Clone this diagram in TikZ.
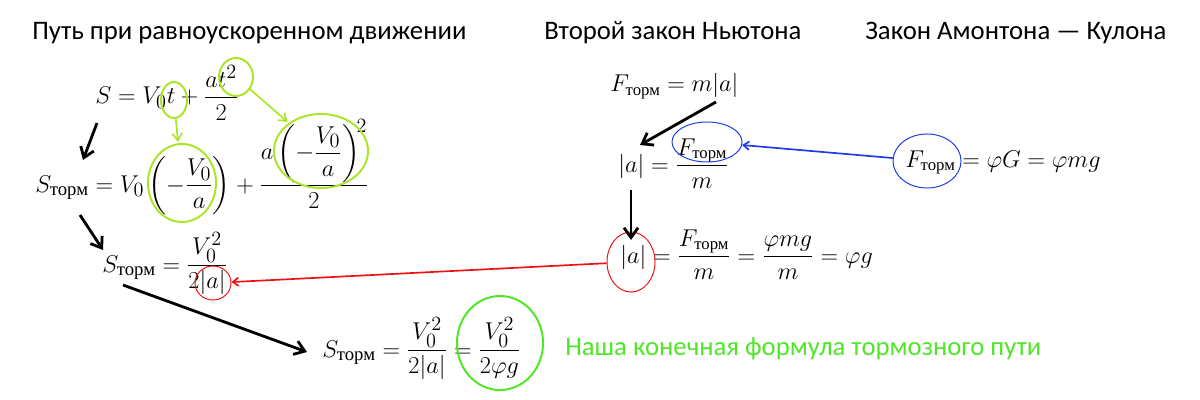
\documentclass[tikz,border=0pt]{standalone}
\usepackage{amsmath}
\usepackage{fontspec}
\newfontfamily\calibri{Carlito}
\newfontfamily\cyr{Liberation Serif}
\usetikzlibrary{arrows.meta,shapes.geometric}
\definecolor{lime}{RGB}{170,230,40}
\definecolor{fgreen}{RGB}{80,230,40}
\definecolor{rred}{RGB}{235,20,20}
\definecolor{bblue}{RGB}{30,60,230}
\newcommand{\torm}{\text{\cyr торм}}
\begin{document}
\begin{tikzpicture}[x=0.025cm,y=-0.025cm,
  title/.style={font=\calibri\fontsize{19}{22}\selectfont, inner sep=0, anchor=base west},
  fl/.style={font=\fontsize{19}{23}\selectfont, inner sep=0, anchor=base west},
  fm/.style={font=\fontsize{17}{21}\selectfont, inner sep=0, anchor=base west},
  oval/.style 2 args={ellipse, draw, inner sep=0, minimum width=#1*0.05cm, minimum height=#2*0.05cm},
  limering/.style={lime, line width=1.4pt},
  blk/.style={-{Straight Barb[length=7pt,width=10pt]}, line width=2pt, black},
  limearr/.style={-{Straight Barb[length=5pt,width=7pt]}, lime, line width=1.2pt, shorten >=1pt},
  redarr/.style={-{Straight Barb[length=4pt,width=6pt]}, rred, line width=1.2pt},
  bluearr/.style={-{Straight Barb[length=4pt,width=6pt]}, bblue, line width=1.2pt}]
\useasboundingbox (0,0) rectangle (1200,400);

% titles
\node[title] (t1) at (32,40) {Путь при равноускоренном движении};
\node[title] (t2) at (544,40) {Второй закон Ньютона};
\node[title] (t3) at (865,40) {Закон Амонтона — Кулона};

% left formulas
\node[fl] (f1) at (95,104) {$\displaystyle S=V_0t+\frac{at^2}{2}$};
\node[fl] (f2) at (35,192) {$\displaystyle S_{\torm}=V_0\left(-\frac{V_0}{a}\right)+\frac{a\left(-\dfrac{V_0}{a}\right)^{\!2}}{2}$};
\node[fl] (f3) at (102,272) {$\displaystyle S_{\torm}=\frac{V_0^2}{2|a|}$};
\node[fl] (f4) at (322,357) {$\displaystyle S_{\torm}=\frac{V_0^2}{2|a|}=\frac{V_0^2}{2\varphi g}$};
\node[font=\calibri\fontsize{19}{22}\selectfont, inner sep=0, anchor=base west, text=fgreen] (note) at (565,355) {Наша конечная формула тормозного пути};

% middle formulas
\node[fm] (m1) at (610,92) {$F_{\torm}=m|a|$};
\node[fm] (m2) at (618,172) {$\displaystyle |a|=\frac{F_{\torm}}{m}$};
\node[fm] (m3) at (620,263) {$\displaystyle |a|=\frac{F_{\torm}}{m}=\frac{\varphi mg}{m}=\varphi g$};
\node[fm] (r1) at (905,167) {$F_{\torm}=\varphi G=\varphi mg$};

% rings
\node[oval={13}{18}, limering] (ct) at (174,100) {};
\node[oval={17}{19}, limering] (ctt) at (236,77) {};
\node[oval={34}{39}, limering] (big1) at (182,183) {};
\node[oval={47}{37}, limering] (big2) at (321,151) {};
\node[oval={43}{47}, fgreen, line width=1.4pt] (fin) at (500,343) {};
\node[oval={18}{17}, rred, line width=0.7pt] (ra1) at (213,283) {};
\node[oval={24}{30}, rred, line width=0.7pt] (ra2) at (631,262) {};
\node[oval={35}{20}, bblue, line width=0.7pt] (bf1) at (707,142) {};
\node[oval={34}{27}, bblue, line width=0.7pt] (bf2) at (927,161) {};

% coloured connectors
\draw[limearr] (ct) -- (big1);
\draw[limearr] (ctt) -- (big2);
\draw[redarr] (ra2) -- (ra1);
\draw[bluearr] (bf2) -- (bf1);

% black arrows
\coordinate (a1s) at (97,123); \coordinate (a1e) at (83,160);
\coordinate (a2s) at (80,215); \coordinate (a2e) at (103,250);
\coordinate (a3s) at (123,285); \coordinate (a3e) at (307,352);
\coordinate (a4s) at (716,102); \coordinate (a4e) at (640,145);
\coordinate (a5s) at (631,190); \coordinate (a5e) at (631,240);
\draw[blk] (a1s) -- (a1e);
\draw[blk] (a2s) -- (a2e);
\draw[blk] (a3s) -- (a3e);
\draw[blk] (a4s) -- (a4e);
\draw[blk] (a5s) -- (a5e);
\end{tikzpicture}
\end{document}
